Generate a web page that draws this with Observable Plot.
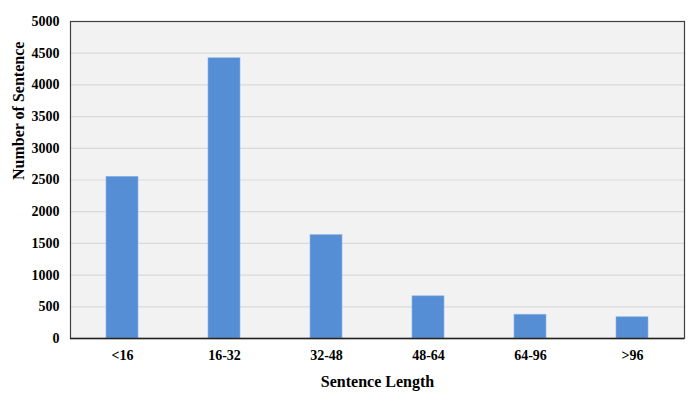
<!DOCTYPE html>
<html><head><meta charset="utf-8">
<script src="https://cdn.jsdelivr.net/npm/d3@7"></script>
<script src="https://cdn.jsdelivr.net/npm/@observablehq/plot@0.6"></script>
<style>
body{margin:0;background:#fff;}
svg{font-family:"Liberation Serif","Times New Roman",serif;font-weight:bold;}
</style>
</head><body>
<div id="chart"></div>
<script>
const categories = ["<16","16-32","32-48","48-64","64-96",">96"];
const counts = [2550, 4420, 1630, 665, 375, 335];
const yTicks = [0,500,1000,1500,2000,2500,3000,3500,4000,4500,5000];

const data = categories.map((c,i)=>({cat:c, n:counts[i]}));

const chart = Plot.plot({
  width: 693,
  height: 418,
  marginLeft: 70,
  marginRight: 9,
  marginTop: 21,
  marginBottom: 80,
  style: {fontFamily:'"Liberation Serif","Times New Roman",serif', fontWeight:"bold", fontSize:"14px", color:"#000", background:"#fff"},
  x: {domain: categories, paddingInner: 0.69, paddingOuter: 0.345, label: null},
  y: {domain: [0,5000], label: null},
  marks: [
    Plot.frame({fill:"#f2f2f2", stroke:null}),
    Plot.gridY(yTicks, {stroke:"#d9d9d9", strokeOpacity:1, strokeWidth:1.2}),
    Plot.barY(data, {x:"cat", y:"n", fill:"#558ed5", stroke:"#8cb4e6", strokeWidth:0.6}),
    Plot.frame({stroke:"#404040", strokeWidth:1.2}),
    Plot.ruleY([0], {stroke:"#222", strokeWidth:1.5}),
    Plot.axisY({ticks:yTicks, tickFormat:"d", tickSize:0, tickPadding:11, fontSize:14, fontWeight:"bold", label:null}),
    Plot.axisX({tickSize:0, tickPadding:12, fontSize:14, fontWeight:"bold", label:null}),
    Plot.text(["Sentence Length"], {frameAnchor:"bottom", dy:48, fontSize:16, fontWeight:"bold"}),
    Plot.text(["Number of Sentence"], {frameAnchor:"left", dx:-52, rotate:-90, fontSize:16, fontWeight:"bold"})
  ]
});
document.getElementById("chart").appendChild(chart);
</script>
</body></html>
